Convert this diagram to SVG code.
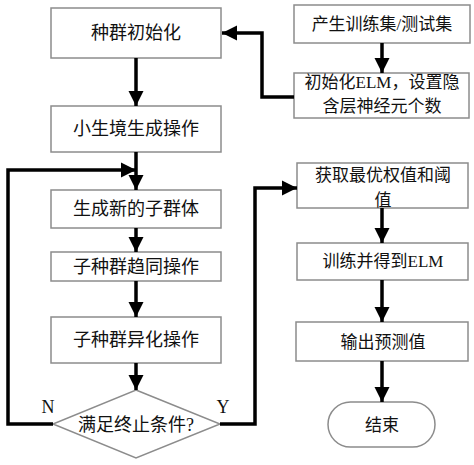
<svg xmlns="http://www.w3.org/2000/svg" width="474" height="465" viewBox="0 0 474 465">
<style>
.box{fill:#fff;stroke:#8c8c8c;stroke-width:1.5}
.t{font-family:"Liberation Serif","Noto Sans CJK SC",serif;font-size:17px;fill:#111;text-anchor:middle}
.l{font-size:18px}
.c{fill:none;stroke:#000;stroke-width:3.5}
</style>
<defs>
<marker id="a" viewBox="0 0 10 10" refX="10" refY="5" markerWidth="4.4" markerHeight="4.4" markerUnits="strokeWidth" orient="auto">
<path d="M0,0L10,5L0,10z" fill="#000"/>
</marker>
</defs>
<rect width="474" height="465" fill="#fff"/>
<g id="n1"><rect class="box" x="51" y="8" width="170" height="50"/><text class="t l" x="136" y="39">种群初始化</text></g>
<g id="n2"><rect class="box" x="51" y="106" width="170" height="46"/><text class="t l" x="136" y="135">小生境生成操作</text></g>
<g id="n3"><rect class="box" x="51" y="190" width="170" height="38"/><text class="t l" x="136" y="215">生成新的子群体</text></g>
<g id="n4"><rect class="box" x="51" y="252" width="170" height="29"/><text class="t l" x="136" y="273">子种群趋同操作</text></g>
<g id="n5"><rect class="box" x="51" y="317" width="170" height="46"/><text class="t l" x="136" y="346">子种群异化操作</text></g>
<g id="n6"><path class="box" d="M136,390L220,424L136,458L53,424z"/><text class="t l" x="136" y="431">满足终止条件?</text></g>
<g id="r1"><rect class="box" x="294" y="5" width="176" height="38"/><text class="t" x="382" y="30">产生训练集/测试集</text></g>
<g id="r2"><rect class="box" x="294" y="73" width="175" height="45"/><text class="t" x="382" y="88">初始化ELM，设置隐</text><text class="t" x="382" y="112">含层神经元个数</text></g>
<g id="r3"><rect class="box" x="297" y="163" width="171" height="45"/><text class="t" x="383" y="181">获取最优权值和阈</text><text class="t" x="383" y="206">值</text></g>
<g id="r4"><rect class="box" x="297" y="243" width="171" height="37"/><text class="t" x="383" y="267">训练并得到ELM</text></g>
<g id="r5"><rect class="box" x="296" y="322" width="172" height="39"/><text class="t" x="383" y="348">输出预测值</text></g>
<g id="r6"><rect class="box" x="328" y="402" width="107" height="45" rx="22.5"/><text class="t" x="382" y="431">结束</text></g>
<text class="t l" x="48" y="413">N</text>
<text class="t l" x="223" y="413">Y</text>
<g id="connectors">
<path class="c" marker-end="url(#a)" d="M136,58V106"/>
<path class="c" marker-end="url(#a)" d="M136,152V190"/>
<path class="c" marker-end="url(#a)" d="M136,228V252"/>
<path class="c" marker-end="url(#a)" d="M136,281V317"/>
<path class="c" marker-end="url(#a)" d="M136,363V390"/>
<path class="c" marker-end="url(#a)" d="M53,424H8V170H136"/>
<path class="c" marker-end="url(#a)" d="M220,424H255V188H297"/>
<path class="c" marker-end="url(#a)" d="M382,43V73"/>
<path class="c" marker-end="url(#a)" d="M294,97H262V33H222"/>
<path class="c" marker-end="url(#a)" d="M382,208V243"/>
<path class="c" marker-end="url(#a)" d="M382,280V322"/>
<path class="c" marker-end="url(#a)" d="M382,361V402"/>
</g>
</svg>
